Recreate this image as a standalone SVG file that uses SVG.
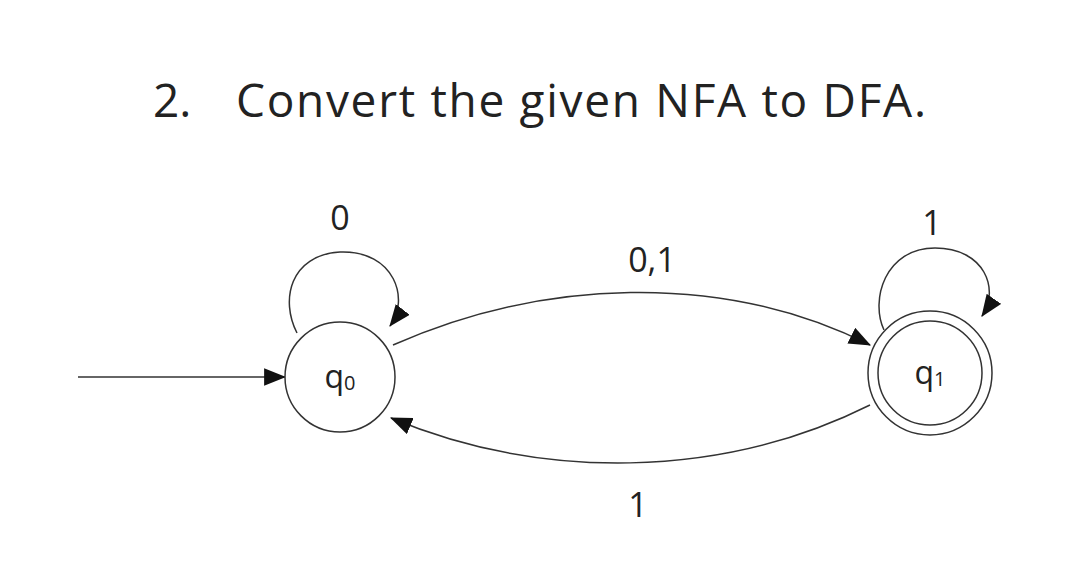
<svg xmlns="http://www.w3.org/2000/svg" width="1079" height="571" viewBox="0 0 1079 571">
<style>
text{font-family:"Open Sans","Liberation Sans",sans-serif;fill:#222}
.st{fill:#fff;stroke:#333;stroke-width:1.5}
.e{fill:none;stroke:#333;stroke-width:1.5}
.lb{font-size:34px;text-anchor:middle}
</style>
<defs>
<marker id="b" viewBox="0 0 20 16" markerWidth="22" markerHeight="18" refX="19" refY="8" orient="auto" markerUnits="userSpaceOnUse"><path d="M0,0 L20,8 L0,16 Z" fill="#111"/></marker></defs>
<rect width="1079" height="571" fill="#fff"/>
<text x="153" y="117" font-size="46">2.</text>
<text x="236" y="117" font-size="46" textLength="690" lengthAdjust="spacing">Convert the given NFA to DFA.</text>
<g id="edges">
<path class="e" d="M78,377 H285" marker-end="url(#b)"/>
<path class="e" d="M297,333 C280,300 290,255 340,252 C395,250 410,300 390,326" marker-end="url(#b)"/>
<path class="e" d="M884,330 C870,300 885,248 935,248 C985,248 1000,290 982,316" marker-end="url(#b)"/>
<path class="e" d="M393,345 C540,280 720,270 870,345" marker-end="url(#b)"/>
<path class="e" d="M870,405 C720,480 540,480 391,418" marker-end="url(#b)"/>
</g>
<g id="q0"><circle class="st" cx="340" cy="377" r="55"/><text x="340" y="388" font-size="32" text-anchor="middle">q<tspan font-size="20" dy="2">0</tspan></text></g>
<g id="q1"><circle class="st" cx="930" cy="373" r="62"/><circle class="st" cx="930" cy="373" r="52"/><text x="930" y="384" font-size="32" text-anchor="middle">q<tspan font-size="20" dy="2">1</tspan></text></g>
<text class="lb" x="340" y="230">0</text>
<text class="lb" x="932" y="235">1</text>
<text class="lb" x="652" y="272">0,1</text>
<text class="lb" x="638" y="517">1</text>
</svg>
